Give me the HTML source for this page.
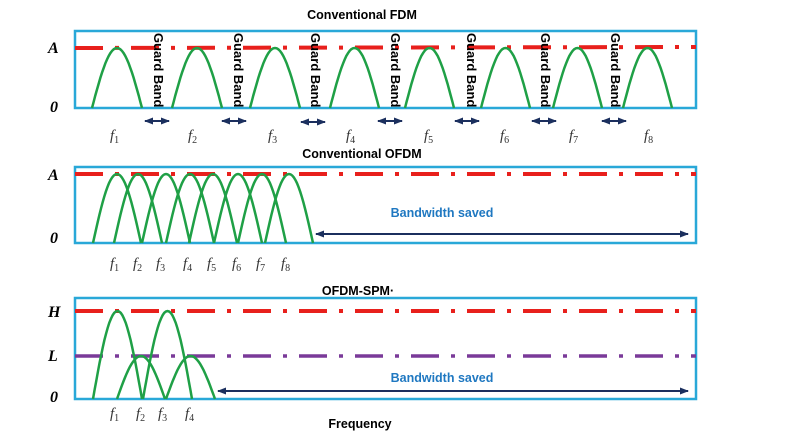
<!DOCTYPE html>
<html><head><style>
body{margin:0;background:#fff;}
svg{display:block;font-family:"Liberation Sans",sans-serif;}
.t{font-weight:bold;font-size:12.5px;fill:#000}
.ax{font-family:"Liberation Serif",serif;font-weight:bold;font-style:italic;font-size:16px}
.f{font-family:"Liberation Serif",serif;font-style:italic;font-size:15px;fill:#333}
.f tspan{font-size:10px;font-style:normal}
.gb{font-weight:bold;font-size:13px}
.bw{fill:#1f78c1;font-weight:bold;font-size:12.5px}
</style></head><body>
<svg id="s" width="800" height="448" viewBox="0 0 800 448">
<defs><marker id="a" markerUnits="userSpaceOnUse" markerWidth="10" markerHeight="8" refX="8" refY="4" orient="auto-start-reverse"><path d="M0,0.5 L9,4 L0,7.5 Z" fill="#1b2f5e"/></marker></defs>
<text class="t" x="362" y="19" text-anchor="middle">Conventional FDM</text>
<text class="t" x="362" y="158" text-anchor="middle">Conventional OFDM</text>
<text class="t" x="358" y="295" text-anchor="middle">OFDM-SPM·</text>
<text class="t" x="360" y="428" text-anchor="middle">Frequency</text>
<g fill="none" stroke="#29a8d8" stroke-width="2.5">
<rect x="75" y="31" width="621" height="77"/>
<rect x="75" y="167" width="621" height="76"/>
<rect x="75" y="298" width="621" height="101"/>
</g>
<g stroke="#e8201c" stroke-width="4" stroke-dasharray="28,12,4,12" fill="none">
<line x1="75" y1="48" x2="696" y2="47"/>
<line x1="75" y1="174" x2="696" y2="174"/>
<line x1="75" y1="311" x2="696" y2="311"/>
</g>
<line x1="75" y1="356" x2="696" y2="356" stroke="#7a3a99" stroke-width="3.5" stroke-dasharray="28,12,4,12"/>
<g class="ax">
<text x="48" y="53">A</text><text x="50" y="112">0</text>
<text x="48" y="180">A</text><text x="50" y="243">0</text>
<text x="48" y="317">H</text><text x="48" y="361">L</text><text x="50" y="402">0</text>
</g>
<g id="arches" fill="none" stroke="#1fa046" stroke-width="2.5"></g>
<g class="gb">
<text transform="translate(154,33) rotate(90)">Guard Band</text>
<text transform="translate(234,33) rotate(90)">Guard Band</text>
<text transform="translate(311,33) rotate(90)">Guard Band</text>
<text transform="translate(391,33) rotate(90)">Guard Band</text>
<text transform="translate(467,33) rotate(90)">Guard Band</text>
<text transform="translate(541,33) rotate(90)">Guard Band</text>
<text transform="translate(611,33) rotate(90)">Guard Band</text>
</g>
<g stroke="#1b2f5e" stroke-width="2" marker-start="url(#a)" marker-end="url(#a)">
<line x1="145" y1="121" x2="169" y2="121"/>
<line x1="222" y1="121" x2="246" y2="121"/>
<line x1="301" y1="122" x2="325" y2="122"/>
<line x1="378" y1="121" x2="402" y2="121"/>
<line x1="455" y1="121" x2="479" y2="121"/>
<line x1="532" y1="121" x2="556" y2="121"/>
<line x1="602" y1="121" x2="626" y2="121"/>
<line x1="316" y1="234" x2="688" y2="234"/>
<line x1="218" y1="391" x2="688" y2="391"/>
</g>
<text class="bw" x="442" y="217" text-anchor="middle">Bandwidth saved</text>
<text class="bw" x="442" y="382" text-anchor="middle">Bandwidth saved</text>
<g class="f">
<text x="110" y="140">f<tspan dy="3">1</tspan></text>
<text x="188" y="140">f<tspan dy="3">2</tspan></text>
<text x="268" y="140">f<tspan dy="3">3</tspan></text>
<text x="346" y="140">f<tspan dy="3">4</tspan></text>
<text x="424" y="140">f<tspan dy="3">5</tspan></text>
<text x="500" y="140">f<tspan dy="3">6</tspan></text>
<text x="569" y="140">f<tspan dy="3">7</tspan></text>
<text x="644" y="140">f<tspan dy="3">8</tspan></text>
<text x="110" y="268">f<tspan dy="3">1</tspan></text>
<text x="133" y="268">f<tspan dy="3">2</tspan></text>
<text x="156" y="268">f<tspan dy="3">3</tspan></text>
<text x="183" y="268">f<tspan dy="3">4</tspan></text>
<text x="207" y="268">f<tspan dy="3">5</tspan></text>
<text x="232" y="268">f<tspan dy="3">6</tspan></text>
<text x="256" y="268">f<tspan dy="3">7</tspan></text>
<text x="281" y="268">f<tspan dy="3">8</tspan></text>
<text x="110" y="418">f<tspan dy="3">1</tspan></text>
<text x="136" y="418">f<tspan dy="3">2</tspan></text>
<text x="158" y="418">f<tspan dy="3">3</tspan></text>
<text x="185" y="418">f<tspan dy="3">4</tspan></text>
</g>
</svg>
<script>
var g=document.getElementById('arches');
function arch(x0,x1,yb,yt){var d='';for(var i=0;i<=30;i++){var t=i/30;var x=x0+(x1-x0)*t;var y=yb-(yb-yt)*Math.sin(Math.PI*t);d+=(i?'L':'M')+x.toFixed(1)+','+y.toFixed(1);}
var p=document.createElementNS('http://www.w3.org/2000/svg','path');p.setAttribute('d',d);g.appendChild(p);}
[[92,142],[172,222],[250,300],[330,379],[405,454],[481,530],[553,602],[623,672]].forEach(function(a){arch(a[0],a[1],108,48);});
[117,138,166,190,213,238,262,289].forEach(function(c){arch(c-24,c+24,243,174);});
arch(93,142,399,311);arch(143,192,399,311);arch(117,165,399,356);arch(166,215,399,356);
</script>
</body></html>
